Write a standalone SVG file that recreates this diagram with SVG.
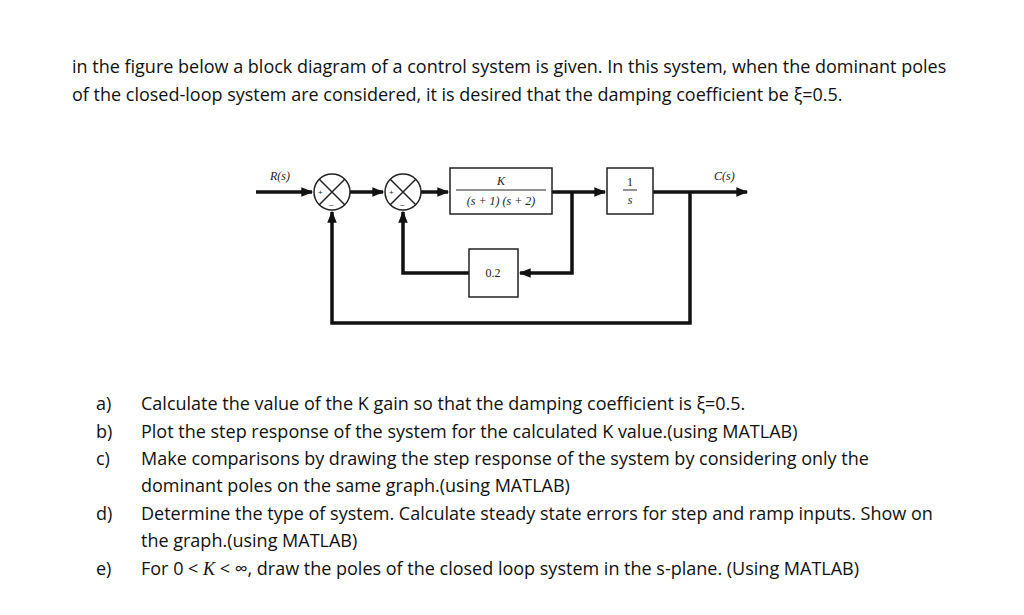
<svg xmlns="http://www.w3.org/2000/svg" width="1024" height="615" viewBox="0 0 1024 615">
<style>
.t{font-family:"Open Sans","Liberation Sans",sans-serif;font-size:18px;fill:#111}
.m{font-family:"Liberation Serif",serif;font-style:italic;fill:#222}
.n{font-family:"Liberation Serif",serif;fill:#222}
.b{fill:#fff;stroke:#222;stroke-width:1.5}
.w{fill:none;stroke:#111;stroke-width:3.5}
.s{font-family:"Liberation Sans",sans-serif;font-size:8px;fill:#222}
</style>
<defs><marker id="a" viewBox="0 0 10 10" refX="9" refY="5" markerWidth="4" markerHeight="3.4" orient="auto" markerUnits="strokeWidth"><path d="M0,1 L10,5 L0,9 z" fill="#111"/></marker></defs>
<rect width="1024" height="615" fill="#fff"/>
<text class="t" x="72" y="73">in the figure below a block diagram of a control system is given. In this system, when the dominant poles</text>
<text class="t" x="72" y="101">of the closed-loop system are considered, it is desired that the damping coefficient be ξ=0.5.</text>
<g id="connectors">
<path class="w" d="M256,192 H312" marker-end="url(#a)"/>
<path class="w" d="M350,192 H383" marker-end="url(#a)"/>
<path class="w" d="M421,192 H448" marker-end="url(#a)"/>
<path class="w" d="M552,192 H605" marker-end="url(#a)"/>
<path class="w" d="M653,192 H747" marker-end="url(#a)"/>
<path class="w" d="M572,192 V273 H520" marker-end="url(#a)"/>
<path class="w" d="M469,273 H403 V212" marker-end="url(#a)"/>
<path class="w" d="M690,192 V323 H332 V212" marker-end="url(#a)"/>
</g>
<g id="sum1"><circle class="b" cx="332" cy="192" r="18"/><path d="M319,179 L345,205 M345,179 L319,205" stroke="#222" stroke-width="1.5"/><text class="s" x="318" y="195">+</text><text class="s" x="329" y="207">–</text></g>
<g id="sum2"><circle class="b" cx="403" cy="192" r="18"/><path d="M390,179 L416,205 M416,179 L390,205" stroke="#222" stroke-width="1.5"/><text class="s" x="389" y="195">+</text><text class="s" x="400" y="207">–</text></g>
<g id="G1"><rect class="b" x="450" y="168" width="102" height="46"/><text class="m" x="501" y="185" font-size="12" text-anchor="middle">K</text><line x1="456" y1="190" x2="546" y2="190" stroke="#222" stroke-width="1"/><text class="m" x="501" y="205" font-size="12" text-anchor="middle">(s + 1) (s + 2)</text></g>
<g id="G2"><rect class="b" x="607" y="168" width="46" height="46"/><text class="n" x="630" y="186" font-size="12" text-anchor="middle">1</text><line x1="623" y1="190" x2="637" y2="190" stroke="#222" stroke-width="1"/><text class="m" x="630" y="204" font-size="12" text-anchor="middle">s</text></g>
<g id="H"><rect class="b" x="469" y="249" width="49" height="48"/><text class="n" x="493" y="277" font-size="12" text-anchor="middle">0.2</text></g>
<text class="m" x="270" y="180" font-size="12">R(s)</text>
<text class="m" x="714" y="180" font-size="12">C(s)</text>
<g class="t">
<text x="96" y="410">a)</text><text x="141" y="410">Calculate the value of the K gain so that the damping coefficient is ξ=0.5.</text>
<text x="96" y="438">b)</text><text x="141" y="438">Plot the step response of the system for the calculated K value.(using MATLAB)</text>
<text x="96" y="465">c)</text><text x="141" y="465">Make comparisons by drawing the step response of the system by considering only the</text>
<text x="141" y="492">dominant poles on the same graph.(using MATLAB)</text>
<text x="96" y="520">d)</text><text x="141" y="520">Determine the type of system. Calculate steady state errors for step and ramp inputs. Show on</text>
<text x="141" y="547">the graph.(using MATLAB)</text>
<text x="96" y="575">e)</text><text x="141" y="575">For 0 &lt; <tspan font-family="Liberation Serif" font-style="italic">K</tspan> &lt; ∞, draw the poles of the closed loop system in the s-plane. (Using MATLAB)</text>
</g>
</svg>
